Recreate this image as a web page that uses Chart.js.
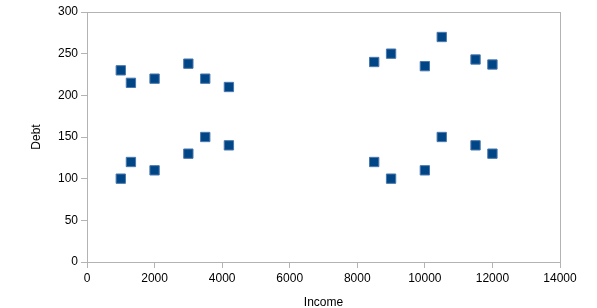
<!DOCTYPE html>
<html>
<head>
<meta charset="utf-8">
<script src="https://cdn.jsdelivr.net/npm/chart.js@4/dist/chart.umd.min.js"></script>
<style>
  html, body { margin: 0; padding: 0; background: #fff; }
  #wrap { width: 597px; height: 308px; }
</style>
</head>
<body>
<div id="wrap"><canvas id="chart" width="597" height="308"></canvas></div>
<script>
  "use strict";

  // Income / Debt pairs
  const income = [1000, 1300, 2000, 3000, 3500, 4200, 8500, 9000, 10000, 10500, 11500, 12000,
                  1000, 1300, 2000, 3000, 3500, 4200, 8500, 9000, 10000, 10500, 11500, 12000];
  const debt = [230, 215, 220, 238, 220, 210, 240, 250, 235, 270, 243, 237,
                100, 120, 110, 130, 150, 140, 120, 100, 110, 150, 140, 130];
  const xTicks = [0, 2000, 4000, 6000, 8000, 10000, 12000, 14000];
  const yTicks = [0, 50, 100, 150, 200, 250, 300];

  const points = income.map((x, i) => ({ x, y: debt[i] }));
  const axisColor = "#b3b3b3";
  const font = { family: "'Liberation Sans', Arial, sans-serif", size: 12 };

  // light grey frame around the plot area
  const frame = {
    id: "frame",
    afterDraw(chart) {
      const a = chart.chartArea;
      const ctx = chart.ctx;
      ctx.save();
      ctx.strokeStyle = axisColor;
      ctx.lineWidth = 1;
      ctx.strokeRect(Math.round(a.left) + 0.5, Math.round(a.top) + 0.5,
        Math.round(a.right - a.left), Math.round(a.bottom - a.top));
      ctx.restore();
    },
  };

  new Chart(document.getElementById("chart"), {
    type: "scatter",
    data: {
      datasets: [{
        label: "Debt",
        data: points,
        pointStyle: "rect",
        pointRadius: 6.6,
        pointHoverRadius: 6.6,
        backgroundColor: "#004586",
        borderColor: "#4a78ad",
        borderWidth: 1,
      }],
    },
    options: {
      responsive: false,
      animation: false,
      events: [],
      layout: { padding: { top: 12, right: 37, bottom: 0, left: 0 } },
      plugins: { legend: { display: false }, tooltip: { enabled: false } },
      scales: {
        x: {
          type: "linear",
          min: xTicks[0],
          max: xTicks[xTicks.length - 1],
          afterBuildTicks: (s) => { s.ticks = xTicks.map((v) => ({ value: v })); },
          afterFit: (s) => { s.height = 46; },
          grid: { drawOnChartArea: false, tickLength: 6, color: axisColor },
          border: { color: axisColor },
          ticks: { color: "#000", font, padding: 3, maxRotation: 0, callback: (v) => String(v) },
          title: { display: true, text: "Income", color: "#000", font, padding: { top: 0, bottom: -2 } },
        },
        y: {
          type: "linear",
          min: yTicks[0],
          max: yTicks[yTicks.length - 1],
          afterBuildTicks: (s) => { s.ticks = yTicks.map((v) => ({ value: v })); },
          afterFit: (s) => { s.width = 87; },
          grid: { drawOnChartArea: false, tickLength: 6, color: axisColor },
          border: { color: axisColor },
          ticks: { color: "#000", font, padding: 3, callback: (v) => String(v) },
          title: { display: true, text: "Debt", color: "#000", font, padding: { top: 29, bottom: 0 } },
        },
      },
    },
    plugins: [frame],
  });
</script>
</body>
</html>
